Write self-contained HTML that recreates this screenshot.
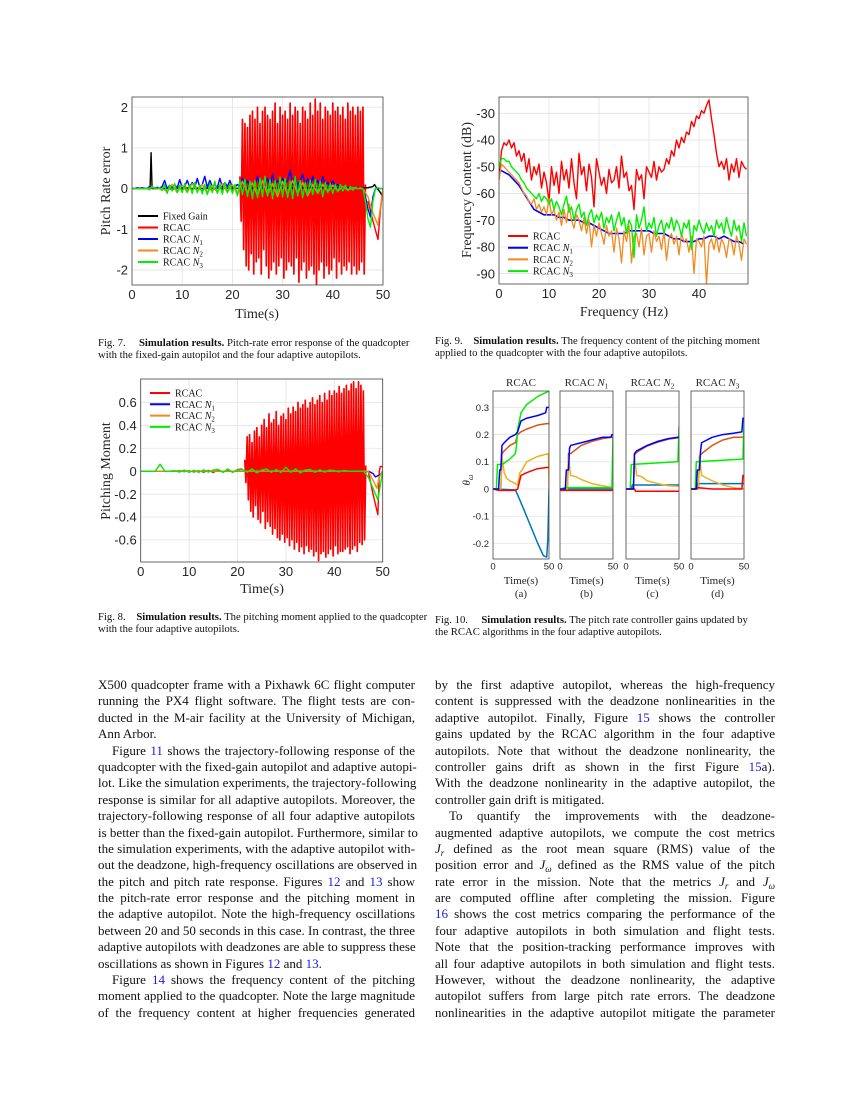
<!DOCTYPE html>
<html><head><meta charset="utf-8">
<style>
html,body{margin:0;padding:0;background:#fff;}
body{width:850px;height:1100px;position:relative;overflow:hidden;font-family:"Liberation Serif",serif;color:#111;}
svg#figs{position:absolute;left:0;top:0;}
.cap{position:absolute;font-size:10.7px;line-height:12.2px;font-family:"Liberation Serif",serif;color:#111;white-space:nowrap;}
.cap b{font-weight:bold;}
.col{position:absolute;top:677px;font-size:13px;line-height:16.4px;}
.col div{text-align:justify;text-align-last:justify;white-space:nowrap;height:16.4px;}
.col div.l{text-align-last:left;}
.col div.i{text-indent:14px;}
.ref{color:#1a1ae6;}
.sb{font-size:9px;position:relative;top:3px;line-height:0;}
</style></head>
<body>
<svg id="figs" width="850" height="1100" xmlns="http://www.w3.org/2000/svg"></svg>

<div class="cap" style="left:98px;top:337px;">Fig. 7.&nbsp;&nbsp;&nbsp;&nbsp; <b>Simulation results.</b> Pitch-rate error response of the quadcopter<br>with the fixed-gain autopilot and the four adaptive autopilots.</div>
<div class="cap" style="left:435px;top:335px;">Fig. 9.&nbsp;&nbsp;&nbsp; <b>Simulation results.</b> The frequency content of the pitching moment<br>applied to the quadcopter with the four adaptive autopilots.</div>
<div class="cap" style="left:98px;top:611px;">Fig. 8.&nbsp;&nbsp;&nbsp; <b>Simulation results.</b> The pitching moment applied to the quadcopter<br>with the four adaptive autopilots.</div>
<div class="cap" style="left:435px;top:614px;">Fig. 10.&nbsp;&nbsp;&nbsp;&nbsp; <b>Simulation results.</b> The pitch rate controller gains updated by<br>the RCAC algorithms in the four adaptive autopilots.</div>

<div class="col" style="left:98px;width:317px;">
<div>X500 quadcopter frame with a Pixhawk 6C flight computer</div>
<div>running the PX4 flight software. The flight tests are con-</div>
<div>ducted in the M-air facility at the University of Michigan,</div>
<div class="l">Ann Arbor.</div>
<div class="i">Figure <span class="ref">11</span> shows the trajectory-following response of the</div>
<div>quadcopter with the fixed-gain autopilot and adaptive autopi-</div>
<div>lot. Like the simulation experiments, the trajectory-following</div>
<div>response is similar for all adaptive autopilots. Moreover, the</div>
<div>trajectory-following response of all four adaptive autopilots</div>
<div>is better than the fixed-gain autopilot. Furthermore, similar to</div>
<div>the simulation experiments, with the adaptive autopilot with-</div>
<div>out the deadzone, high-frequency oscillations are observed in</div>
<div>the pitch and pitch rate response. Figures <span class="ref">12</span> and <span class="ref">13</span> show</div>
<div>the pitch-rate error response and the pitching moment in</div>
<div>the adaptive autopilot. Note the high-frequency oscillations</div>
<div>between 20 and 50 seconds in this case. In contrast, the three</div>
<div>adaptive autopilots with deadzones are able to suppress these</div>
<div class="l">oscillations as shown in Figures <span class="ref">12</span> and <span class="ref">13</span>.</div>
<div class="i">Figure <span class="ref">14</span> shows the frequency content of the pitching</div>
<div>moment applied to the quadcopter. Note the large magnitude</div>
<div>of the frequency content at higher frequencies generated</div>
</div>

<div class="col" style="left:435px;width:340px;">
<div>by the first adaptive autopilot, whereas the high-frequency</div>
<div>content is suppressed with the deadzone nonlinearities in the</div>
<div>adaptive autopilot. Finally, Figure <span class="ref">15</span> shows the controller</div>
<div>gains updated by the RCAC algorithm in the four adaptive</div>
<div>autopilots. Note that without the deadzone nonlinearity, the</div>
<div>controller gains drift as shown in the first Figure <span class="ref">15</span>a).</div>
<div>With the deadzone nonlinearity in the adaptive autopilot, the</div>
<div class="l">controller gain drift is mitigated.</div>
<div class="i">To quantify the improvements with the deadzone-</div>
<div>augmented adaptive autopilots, we compute the cost metrics</div>
<div><i>J<span class="sb">r</span></i> defined as the root mean square (RMS) value of the</div>
<div>position error and <i>J<span class="sb">ω</span></i> defined as the RMS value of the pitch</div>
<div>rate error in the mission. Note that the metrics <i>J<span class="sb">r</span></i> and <i>J<span class="sb">ω</span></i></div>
<div>are computed offline after completing the mission. Figure</div>
<div><span class="ref">16</span> shows the cost metrics comparing the performance of the</div>
<div>four adaptive autopilots in both simulation and flight tests.</div>
<div>Note that the position-tracking performance improves with</div>
<div>all four adaptive autopilots in both simulation and flight tests.</div>
<div>However, without the deadzone nonlinearity, the adaptive</div>
<div>autopilot suffers from large pitch rate errors. The deadzone</div>
<div>nonlinearities in the adaptive autopilot mitigate the parameter</div>
</div>

<script>
// ===== Fig 7 data (pitch rate error) =====
const f7BlackT = [0,3.6,3.8,4.0,4.5,47,48,48.3,48.7,49.5,50];
const f7BlackV = [0,0,0.88,0,0,0.02,0.05,0.1,0.02,-0.1,-0.22];
const f7RedPreV = [0,0,0,0,0,0,0,0.02,-0.03,0.02,-0.02,0.03,-0.02,0.02,-0.04,0.03,-0.05,0.04,-0.03,0.05,-0.04,0.1];
const f7RedOscV = [0.3,-0.8,1.7,-1.5,1.6,-1.9,1.5,-2.0,1.8,-1.6,
1.9,-2.1,1.7,-1.8,2.0,-1.7,1.6,-2.1,1.9,-1.5,
2.0,-1.9,1.8,-2.2,1.7,-2.0,1.9,-1.8,2.1,-2.1,
1.6,-1.9,2.0,-1.7,1.8,-2.2,1.9,-2.0,1.7,-1.8,
2.1,-1.9,1.8,-2.1,2.0,-1.7,1.9,-2.3,1.6,-2.0,
2.0,-1.8,1.9,-2.2,1.7,-2.0,2.1,-1.9,1.8,-2.1,
2.2,-2.4,1.9,-2.0,2.1,-1.8,1.7,-2.2,2.0,-1.9,
1.9,-2.1,1.8,-2.0,2.1,-1.7,1.9,-2.2,2.0,-1.8,
1.8,-2.1,2.0,-1.9,1.7,-2.0,2.1,-1.8,1.9,-2.1,
2.0,-1.9,1.8,-2.1,2.0,-2.0,1.9,-1.8,2.0,-2.1,0.1];
const f7RedPostT = [47,48,49,49.5,50];
const f7RedPostV = [-0.3,-0.8,-1.25,-0.5,0];
const f7BlueV = [0,0,0.02,0.01,0.02,0.01,0,0.05,0.02,0.01,
0.03,0.01,0.05,0.2,0,0.08,0.02,0.1,0.01,0.22,
0.02,0.05,0.2,0.03,0.15,0.02,0.25,0.04,0.1,0.3,
0.03,0.2,0.05,0.1,0.02,0.25,0.04,0.15,0.05,0.2,
0.02,0.05,0.1,0.03,0.25,0.05,0.2,0.04,0.15,0.1,
0.3,0.05,0.2,0.08,0.25,0.05,0.35,0.1,0.2,0.05,
0.25,0.1,0.2,0.45,0.1,0.3,0.05,0.2,0.35,0.1,
0.25,0.05,0.3,0.1,0.2,0.05,0.3,0.08,0.15,0.05,
0.2,0.05,0.1,0.03,0.05,0.02,0.03,0.02,0.02,0.02,
0.02,0.02,0.02,-0.2,-0.5,-0.7,-0.2,0,0,0,0];
const f7OrangeV = [0,0,0,0,0.02,0,0,-0.08,0.1,-0.1,0.08,-0.1,0.12,-0.08,0.1,-0.12,0.08,-0.1,0.12,-0.1,0.1,-0.15,0.18,-0.12,0.15,-0.18,0.2,-0.15,0.12,-0.2,0.18,-0.15,0.2,-0.12,0.15,-0.18,0.1,-0.12,0.1,-0.08,0.08,-0.06,0.05,-0.04,0.02,0,0,-0.2,-0.6,-0.9,0];
const f7GreenV = [0,0,0,0,0,0,0,-0.03,0.05,0.02,
0,0.02,-0.05,0.1,-0.12,0.08,-0.06,0.12,-0.1,0.08,
-0.1,0.12,-0.08,0.1,-0.12,0.15,-0.1,0.08,-0.13,0.1,
-0.15,0.12,-0.1,0.18,-0.12,0.1,-0.14,0.15,-0.1,0.12,
-0.12,0.1,-0.18,0.2,-0.15,0.22,-0.2,0.18,-0.25,0.2,
-0.22,0.25,-0.2,0.3,-0.18,0.22,-0.25,0.2,-0.15,0.28,
-0.2,0.25,-0.22,0.18,-0.25,0.3,-0.18,0.2,-0.22,0.15,
-0.18,0.2,-0.15,0.22,-0.12,0.18,-0.2,0.15,-0.1,0.12,
-0.12,0.1,-0.08,0.1,-0.06,0.08,-0.05,0.05,-0.04,0.03,
0,0.02,0,-0.3,-0.75,-0.95,-0.3,0,0.02,0,0];
const f7XTicks = [0,10,20,30,40,50];
const f7YTicks = [-2,-1,0,1,2];

// ===== Fig 8 data (pitching moment) =====
const f8RedPreV = [0,0,0,0,0,0,0,0,0.005,-0.005,0.005,-0.008,0.006,-0.01,0.008,-0.012,0.015,-0.01,0.012,-0.01,0.015,0.02];
const f8RedOscV = [0.1,-0.1,0.3,-0.25,0.32,-0.35,0.25,-0.4,0.35,-0.3,
0.38,-0.42,0.3,-0.45,0.4,-0.35,0.45,-0.5,0.38,-0.44,
0.5,-0.48,0.42,-0.55,0.45,-0.5,0.52,-0.58,0.4,-0.6,
0.48,-0.55,0.5,-0.62,0.45,-0.58,0.55,-0.65,0.5,-0.6,
0.56,-0.68,0.52,-0.62,0.6,-0.7,0.55,-0.66,0.58,-0.72,
0.62,-0.65,0.55,-0.7,0.6,-0.68,0.64,-0.74,0.58,-0.7,
0.62,-0.78,0.66,-0.72,0.6,-0.7,0.68,-0.75,0.62,-0.72,
0.7,-0.68,0.66,-0.74,0.7,-0.65,0.68,-0.72,0.74,-0.7,
0.68,-0.7,0.72,-0.68,0.75,-0.66,0.7,-0.72,0.76,-0.68,
0.78,-0.65,0.72,-0.7,0.78,-0.62,0.75,-0.64,0.7,-0.6,0.05];
const f8RedPostT = [47,48,49,49.3,49.5,50];
const f8RedPostV = [0,-0.2,-0.38,0,0.04,0.04];
const f8BlueT = [0,47,48,48.5,49,49.5,50];
const f8BlueV = [0,0,-0.02,-0.05,-0.04,-0.03,0];
const f8OrangeT = [0,47,48,48.8,49.3,50];
const f8OrangeV = [0,0,-0.08,-0.15,-0.05,0];
const f8GreenV = [0,0,0,0,0.06,0,0,0.005,-0.008,0.01,-0.01,0.008,-0.01,0.012,-0.008,0.01,0.015,-0.01,0.02,-0.01,0.01,0.015,-0.01,0.02,-0.015,0.01,0.02,-0.01,0.015,-0.012,0.035,-0.01,0.02,-0.015,0.01,0.015,-0.01,0.012,-0.008,0.01,0.005,-0.005,0.005,0,0,0,0,-0.05,-0.15,-0.25,0];
const f8XTicks = [0,10,20,30,40,50];
const f8YTicks = [-0.6,-0.4,-0.2,0,0.2,0.4,0.6];

// ===== Fig 9 data (frequency content, dB) =====
const f9RedV = [-55,-44,-41,-42,-40,-43,-41,-46,-44,-48,
-45,-52,-47,-55,-50,-53,-49,-58,-52,-56,
-63,-50,-57,-52,-60,-48,-55,-51,-58,-47,
-56,-62,-45,-53,-50,-59,-49,-54,-65,-47,
-52,-57,-54,-60,-51,-56,-55,-50,-58,-46,
-54,-52,-59,-57,-66,-51,-55,-53,-62,-50,
-52,-54,-48,-55,-50,-52,-51,-47,-49,-44,
-46,-40,-43,-39,-41,-37,-38,-33,-35,-31,
-32,-29,-30,-27,-25,-32,-38,-45,-50,-48,
-51,-47,-55,-49,-52,-47,-54,-48,-50,-51];
const f9BlueV = [-51,-52,-53,-55,-57,-60,-63,-66,-67,-68,-68,-68,-69,-69,-70,-70,-70,-71,-71,-72,-73,-74,-75,-75,-75,-75,-74,-74,-74,-74,-74,-75,-75,-75,-76,-77,-77,-78,-78,-78,-77,-77,-76,-76,-77,-76,-77,-78,-78,-79];
const f9OrangeV = [-55,-49,-50,-51,-52,-53,-54,-55,-56,-58,
-60,-61,-63,-64,-62,-66,-64,-67,-65,-68,
-62,-68,-66,-70,-67,-72,-66,-71,-64,-70,
-73,-68,-70,-74,-69,-75,-70,-80,-72,-76,
-71,-75,-79,-72,-76,-74,-82,-73,-77,-86,
-74,-78,-72,-86,-76,-75,-80,-73,-83,-76,
-75,-82,-74,-78,-76,-81,-74,-85,-77,-75,
-79,-76,-83,-75,-78,-77,-82,-76,-90,-77,
-78,-80,-76,-94,-79,-77,-81,-76,-82,-77,
-79,-84,-77,-78,-83,-76,-79,-85,-77,-79];
const f9GreenV = [-50,-47,-47,-48,-48,-50,-51,-52,-53,-55,
-56,-58,-59,-60,-61,-62,-60,-63,-61,-62,
-64,-62,-66,-63,-65,-68,-64,-61,-67,-65,
-70,-66,-64,-69,-67,-72,-68,-66,-71,-68,
-70,-67,-73,-69,-71,-68,-74,-70,-67,-72,
-69,-75,-70,-72,-84,-68,-73,-70,-65,-74,
-71,-73,-69,-76,-72,-70,-75,-71,-73,-69,
-74,-70,-72,-76,-71,-73,-70,-81,-72,-74,
-70,-73,-75,-71,-74,-72,-76,-70,-73,-71,
-75,-69,-73,-76,-70,-74,-72,-78,-71,-76];
const f9XTicks = [0,10,20,30,40];
const f9YTicks = [-90,-80,-70,-60,-50,-40,-30];

// ===== Fig 10 data (controller gains) =====
const f10Titles = ["RCAC","RCAC N1","RCAC N2","RCAC N3"];
const f10Sub = ["(a)","(b)","(c)","(d)"];
const f10YTicks = [-0.2,-0.1,0,0.1,0.2,0.3];
const f10XTicks = [0,50];
const f10aBlueT=[0,5,6,7,8,10,15,20,22,25,30,40,47,48,49,50], f10aBlueV=[0,0,0.07,0.07,0.16,0.17,0.19,0.2,0.21,0.25,0.26,0.27,0.28,0.3,0.3,0.3];
const f10aDOT=[0,7,8,10,15,20,22,25,30,40,48,50], f10aDOV=[0,0,0.13,0.14,0.16,0.17,0.2,0.21,0.22,0.235,0.24,0.24];
const f10aGreenT=[0,3,4,7,10,15,20,21,22,25,30,40,50], f10aGreenV=[0,0,0.09,0.09,0.095,0.11,0.13,0.16,0.22,0.28,0.31,0.34,0.36];
const f10aYelT=[0,7,8,10,12,15,20,22,24,26,30,40,49.5,50], f10aYelV=[0,0,0.12,0.06,0.04,0.03,0.02,0.015,0.06,0.07,0.1,0.12,0.13,0];
const f10aRedT=[0,5,20,22,25,30,40,50], f10aRedV=[0,-0.005,-0.005,0,0.05,0.06,0.075,0.08];
const f10aLBT=[0,20,25,30,40,45,48,49,50], f10aLBV=[0,-0.003,-0.05,-0.1,-0.2,-0.245,-0.25,-0.18,0];
const f10bBlueT=[0,5,6,8,9,10,20,30,40,48,49,50], f10bBlueV=[0,0,0.07,0.07,0.15,0.16,0.17,0.18,0.19,0.19,0.2,0.2];
const f10bDOT=[0,7,8,10,20,30,40,49,50], f10bDOV=[0,0,0.13,0.13,0.16,0.175,0.185,0.19,0.19];
const f10bYelT=[0,7,8,10,15,20,30,40,50], f10bYelV=[0,0,0.12,0.05,0.045,0.035,0.02,0.012,0.005];
const f10bGreenT=[0,5,48,49,50], f10bGreenV=[0,0.005,0.005,0.01,0.19];
const f10bRedT=[0,50], f10bRedV=[-0.005,-0.005];
const f10bLBT=[0,50], f10bLBV=[0,0];
const f10cBlueT=[0,7,8,10,20,30,40,49,50], f10cBlueV=[0,0,0.13,0.14,0.16,0.175,0.185,0.19,0.19];
const f10cDOT=[0,7,8,10,20,30,40,49,50], f10cDOV=[0,0,0.125,0.135,0.158,0.172,0.183,0.188,0.188];
const f10cGreenT=[0,4,5,48,49,50], f10cGreenV=[0,0,0.09,0.1,0.1,0.23];
const f10cYelT=[0,7,8,10,15,20,30,40,50], f10cYelV=[0,0,0.12,0.05,0.045,0.03,0.02,0.012,0.01];
const f10cRedT=[0,8,9,50], f10cRedV=[0,0,-0.008,-0.008];
const f10cLBT=[0,5,6,50], f10cLBV=[0,0,0.015,0.015];
const f10dBlueT=[0,5,6,8,9,10,20,30,40,48,49,50], f10dBlueV=[0,0,0.07,0.07,0.14,0.17,0.19,0.2,0.205,0.21,0.26,0.26];
const f10dDOT=[0,7,8,10,20,30,40,49,50], f10dDOV=[0,0,0.12,0.13,0.16,0.18,0.19,0.19,0.19];
const f10dGreenT=[0,4,5,48,49,50], f10dGreenV=[0,0,0.1,0.11,0.11,0.25];
const f10dYelT=[0,7,8,10,15,20,30,40,50], f10dYelV=[0,0,0.12,0.05,0.04,0.03,0.015,0.005,0];
const f10dRedT=[0,5,6,20,48,49,50], f10dRedV=[0,0,0.005,0,0,0.05,0.05];
const f10dLBT=[0,5,6,50], f10dLBV=[0,0,0.02,0.02];

const NS="http://www.w3.org/2000/svg";
const svg=document.getElementById('figs');
function mk(tag,attrs,parent){const e=document.createElementNS(NS,tag);for(const k in attrs)e.setAttribute(k,attrs[k]);parent.appendChild(e);return e;}
let clipN=0;
function makeAxes(o){
  const xs=v=>o.px0+(v-o.xmin)/(o.xmax-o.xmin)*(o.px1-o.px0);
  const ys=v=>o.py1-(v-o.ymin)/(o.ymax-o.ymin)*(o.py1-o.py0);
  const g=mk('g',{},svg);
  
  
  const bg=mk('rect',{x:o.px0,y:o.py0,width:o.px1-o.px0,height:o.py1-o.py0,fill:'#fff'},g);
  
  
  if(o.vgrid!==false){o.xticks.forEach(t=>{const l=mk('line',{x1:xs(t),x2:xs(t),y1:o.py0,y2:o.py1,stroke:'#e3e3e3','stroke-width':0.8},g);
    
    });}
  o.yticks.forEach(t=>{const l=mk('line',{x1:o.px0,x2:o.px1,y1:ys(t),y2:ys(t),stroke:'#e3e3e3','stroke-width':0.8},g);
    
    });
  const id='clip'+(clipN++);
  const cp=mk('clipPath',{id:id},g);
  mk('rect',{x:o.px0,y:o.py0,width:o.px1-o.px0,height:o.py1-o.py0},cp);
  const plot=mk('g',{'clip-path':'url(#'+id+')'},g);
  
  
  const fs=o.fs||13;
  if(o.xlabels!==false)o.xticks.forEach(t=>{const tx=mk('text',{x:xs(t),y:o.py1+fs+1,'text-anchor':'middle','font-size':fs,'font-family':'Liberation Sans, sans-serif',fill:'#262626'},g);tx.textContent=String(t);
    
    });
  if(o.ylabels!==false)o.yticks.forEach(t=>{const tx=mk('text',{x:o.px0-4,y:ys(t)+fs*0.36,'text-anchor':'end','font-size':fs,'font-family':'Liberation Sans, sans-serif',fill:'#262626'},g);tx.textContent=(Math.abs(t)<1e-9?'0':String(t));
    
    });
  const bx=mk('rect',{x:o.px0,y:o.py0,width:o.px1-o.px0,height:o.py1-o.py0,fill:'none',stroke:'#444','stroke-width':0.8},g);
  
  
  return {xs,ys,plot,g};
}
function line(ax,T,V,color,w,name){
  let d='';for(let i=0;i<T.length;i++)d+=(i?'L':'M')+ax.xs(T[i]).toFixed(2)+','+ax.ys(V[i]).toFixed(2);
  const p=mk('path',{d:d,fill:'none',stroke:color,'stroke-width':w,'stroke-linejoin':'round'},ax.plot);
  
  
}
function stepT(n,step,start){const a=[];for(let i=0;i<n;i++)a.push((start||0)+i*step);return a;}
function txt(x,y,s,fs,anchor,rot,name,family){
  const t=mk('text',{x:x,y:y,'font-size':fs,'text-anchor':anchor||'middle','font-family':family||'Liberation Serif, serif',fill:'#262626'},svg);
  if(rot)t.setAttribute('transform','rotate(-90 '+x+' '+y+')');
  t.textContent=s;
  
  
  return t;
}
function legend(x,y0,dy,items,fs,name){
  const g=mk('g',{},svg);
  
  
  items.forEach((it,i)=>{const y=y0+i*dy;
    const l=mk('line',{x1:x,x2:x+20,y1:y,y2:y,stroke:it[1],'stroke-width':2},g);
    
    
    const t=mk('text',{x:x+25,y:y+3.5,'font-size':fs,'font-family':'Liberation Serif, serif',fill:'#111'},g);
    
    
    const parts=it[0].split(' N');
    t.appendChild(document.createTextNode(parts[0]));
    if(parts.length>1){t.appendChild(document.createTextNode(' '));
      const a=mk('tspan',{'font-style':'italic'},t);a.textContent='N';
      const b=mk('tspan',{'font-size':fs*0.7,dy:2.5},t);b.textContent=parts[1];}
  });
}
const RED='#ff0000',BLUE='#0000ff',ORANGE='#f28a1e',GREEN='#00ee00',BLACK='#000';

// ---- Fig 7
const a7=makeAxes({name:'fig7-axes',px0:132,px1:383,py0:97,py1:285,xmin:0,xmax:50,ymin:-2.37,ymax:2.25,xticks:f7XTicks,yticks:f7YTicks,fs:13});
line(a7,stepT(f7RedPreV.length,1),f7RedPreV,RED,1.2,'fig7-rcac-pre');
line(a7,stepT(f7RedOscV.length,0.25,21.5),f7RedOscV,RED,1.7,'fig7-rcac-oscillation');
line(a7,f7RedPostT,f7RedPostV,RED,1.4,'fig7-rcac-end');
line(a7,f7BlackT,f7BlackV,BLACK,1.4,'fig7-fixed-gain');
line(a7,stepT(f7BlueV.length,0.5),f7BlueV,BLUE,1.4,'fig7-rcac-n1');
line(a7,stepT(f7OrangeV.length,1),f7OrangeV,ORANGE,1.4,'fig7-rcac-n2');
line(a7,stepT(f7GreenV.length,0.5),f7GreenV,GREEN,1.4,'fig7-rcac-n3');
legend(138,216,11.5,[['Fixed Gain',BLACK],['RCAC',RED],['RCAC N1',BLUE],['RCAC N2',ORANGE],['RCAC N3',GREEN]],10,'fig7-legend');
txt(257,318,'Time(s)',14,'middle',false,'fig7-x-axis-title');
txt(110,191,'Pitch Rate error',14,'middle',true,'fig7-y-axis-title');

// ---- Fig 9
const a9=makeAxes({name:'fig9-axes',px0:499,px1:748,py0:97,py1:284,xmin:0,xmax:49.8,ymin:-93.9,ymax:-23.9,xticks:f9XTicks,yticks:f9YTicks,fs:13});
line(a9,stepT(f9RedV.length,0.5),f9RedV,RED,1.4,'fig9-rcac');
line(a9,stepT(f9BlueV.length,1),f9BlueV,BLUE,1.6,'fig9-rcac-n1');
line(a9,stepT(f9OrangeV.length,0.5),f9OrangeV,ORANGE,1.3,'fig9-rcac-n2');
line(a9,stepT(f9GreenV.length,0.5),f9GreenV,GREEN,1.4,'fig9-rcac-n3');
legend(508,236,11.7,[['RCAC',RED],['RCAC N1',BLUE],['RCAC N2',ORANGE],['RCAC N3',GREEN]],10,'fig9-legend');
txt(624,316,'Frequency (Hz)',14,'middle',false,'fig9-x-axis-title');
txt(471,190,'Frequency Content (dB)',14,'middle',true,'fig9-y-axis-title');

// ---- Fig 8
const a8=makeAxes({name:'fig8-axes',px0:140.7,px1:382.7,py0:379,py1:562,xmin:0,xmax:50,ymin:-0.793,ymax:0.805,xticks:f8XTicks,yticks:f8YTicks,fs:13});
line(a8,stepT(f8RedPreV.length,1),f8RedPreV,RED,1.2,'fig8-rcac-pre');
line(a8,stepT(f8RedOscV.length,0.25,21.5),f8RedOscV,RED,1.7,'fig8-rcac-oscillation');
line(a8,f8RedPostT,f8RedPostV,RED,1.4,'fig8-rcac-end');
line(a8,f8BlueT,f8BlueV,BLUE,1.4,'fig8-rcac-n1');
line(a8,f8OrangeT,f8OrangeV,ORANGE,1.4,'fig8-rcac-n2');
line(a8,stepT(f8GreenV.length,1),f8GreenV,GREEN,1.4,'fig8-rcac-n3');
legend(150,393,11.3,[['RCAC',RED],['RCAC N1',BLUE],['RCAC N2',ORANGE],['RCAC N3',GREEN]],10,'fig8-legend');
txt(262,593,'Time(s)',14,'middle',false,'fig8-x-axis-title');
txt(110,471,'Pitching Moment',14,'middle',true,'fig8-y-axis-title');

// ---- Fig 10
const panels=[[493,549],[560,613],[626,679],[691,744]];
const f10Sets=[
 [[f10aLBT,f10aLBV],[f10aDOT,f10aDOV],[f10aYelT,f10aYelV],[f10aGreenT,f10aGreenV],[f10aRedT,f10aRedV],[f10aBlueT,f10aBlueV]],
 [[f10bLBT,f10bLBV],[f10bDOT,f10bDOV],[f10bYelT,f10bYelV],[f10bGreenT,f10bGreenV],[f10bRedT,f10bRedV],[f10bBlueT,f10bBlueV]],
 [[f10cLBT,f10cLBV],[f10cDOT,f10cDOV],[f10cYelT,f10cYelV],[f10cGreenT,f10cGreenV],[f10cRedT,f10cRedV],[f10cBlueT,f10cBlueV]],
 [[f10dLBT,f10dLBV],[f10dDOT,f10dDOV],[f10dYelT,f10dYelV],[f10dGreenT,f10dGreenV],[f10dRedT,f10dRedV],[f10dBlueT,f10dBlueV]]];
const f10Colors=['#0072bd','#d95319','#edb120','#00ee00','#ff0000','#0000ff'];
const f10Names=['gain-1','gain-2','gain-3','gain-4','gain-5','gain-6'];
panels.forEach((p,k)=>{
  const ax=makeAxes({name:'fig10-panel-'+'abcd'[k],px0:p[0],px1:p[1],py0:391,py1:559,xmin:0,xmax:50,ymin:-0.257,ymax:0.36,xticks:f10XTicks,yticks:f10YTicks,fs:9.5,vgrid:false,ylabels:k===0});
  f10Sets[k].forEach((s,j)=>line(ax,s[0],s[1],f10Colors[j],1.5,'fig10-'+'abcd'[k]+'-'+f10Names[j]));
  const cx=(p[0]+p[1])/2;
  const tt=txt(cx,386,'',11,'middle',false,'fig10-panel-title');
  const parts=f10Titles[k].split(' N');
  tt.appendChild(document.createTextNode(parts[0]));
  if(parts.length>1){tt.appendChild(document.createTextNode(' '));
    const a=mk('tspan',{'font-style':'italic'},tt);a.textContent='N';
    const b=mk('tspan',{'font-size':7.5,dy:2.5},tt);b.textContent=parts[1];}
  txt(cx,584,'Time(s)',11,'middle',false,'fig10-x-axis-title');
  txt(cx,597,f10Sub[k],11,'middle',false,'fig10-panel-letter');
});
const th=txt(470,480,'θ',11,'middle',true,'fig10-y-axis-title');
th.setAttribute('font-style','italic');
const ths=mk('tspan',{'font-size':8,dy:3},th);ths.textContent='ω';
</script>
</body></html>
